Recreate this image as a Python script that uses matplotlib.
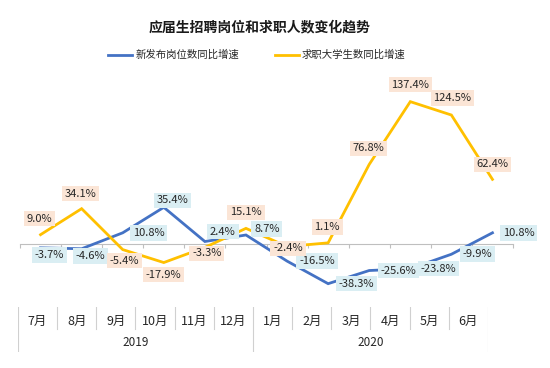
import numpy as np
import matplotlib
matplotlib.use("Agg")
import matplotlib.pyplot as plt

plt.rcParams['font.family'] = ['Noto Sans CJK SC', 'DejaVu Sans']

months = ["7月", "8月", "9月", "10月", "11月", "12月",
          "1月", "2月", "3月", "4月", "5月", "6月"]
years = ["2019", "2020"]
jobs = [-3.7, -4.6, 10.8, 35.4, 2.4, 8.7, -16.5, -38.3, -25.6, -23.8, -9.9, 10.8]
seekers = [9.0, 34.1, -5.4, -17.9, -3.3, 15.1, -2.4, 1.1, 76.8, 137.4, 124.5, 62.4]
jobs_name = "新发布岗位数同比增速"
seekers_name = "求职大学生数同比增速"

BLUE = "#4472C4"
YELLOW = "#FFC000"
TXT = "#262626"

# label offsets in pixels
jobs_off = [(9, -7), (9, -7), (26, 0), (9, 7), (18, 10), (21, 6),
            (30, 0), (28, 0), (29, 0), (28, 0), (26, 0), (26, 0)]
seekers_off = [(-1, 16), (-1, 15), (2, -11), (0, -12), (2, -6), (0, 16),
               (1, -2), (-1, 16), (-1, 16), (0, 17), (1, 17), (0, 15)]

W, H = 550, 368
fig = plt.figure(figsize=(5.5, 3.68), dpi=100)

# main line chart
y0, y1 = -45, 145
ppu = 1.036
zero_px = H - 244
ax = fig.add_axes([20 / W, (zero_px + y0 * ppu) / H, 493 / W, (y1 - y0) * ppu / H])
x = np.arange(len(months))
ax.plot(x, jobs, color=BLUE, lw=2, zorder=3, solid_joinstyle='miter')
ax.plot(x, seekers, color=YELLOW, lw=2, zorder=4, solid_joinstyle='miter')
ax.set_xlim(-0.5, len(months) - 0.5)
ax.set_ylim(y0, y1)
for s in ["top", "right", "left"]:
    ax.spines[s].set_visible(False)
ax.spines["bottom"].set_position(("data", 0))
ax.spines["bottom"].set_color("#bfbfbf")
ax.set_yticks([])
ax.set_xticks(np.arange(-0.5, len(months), 1))
ax.set_xticklabels([])
ax.tick_params(axis="x", length=3, color="#bfbfbf", direction="out")

for i in range(len(months)):
    ax.annotate(f"{jobs[i]:.1f}%", (x[i], jobs[i]), xytext=jobs_off[i],
                textcoords="offset pixels", ha="center", va="center",
                fontsize=8, color=TXT, zorder=6,
                bbox=dict(boxstyle="square,pad=0.25", fc="#DAEEF3", ec="none"))
    ax.annotate(f"{seekers[i]:.1f}%", (x[i], seekers[i]), xytext=seekers_off[i],
                textcoords="offset pixels", ha="center", va="center",
                fontsize=8, color=TXT, zorder=6,
                bbox=dict(boxstyle="square,pad=0.25", fc="#FBE5D6", ec="none"))

# category table under the chart
ax2 = fig.add_axes([18 / W, (H - 352) / H, 470 / W, 45 / H])
ax2.set_xlim(0, len(months))
ax2.set_ylim(0, 1)
ax2.axis("off")
for i in range(len(months) + 1):
    full = i % 6 == 0
    ax2.plot([i, i], [0 if full else 0.51, 1], color="#d0d0d0", lw=0.8)
for i, m in enumerate(months):
    ax2.text(i + 0.5, 0.68, m, ha="center", va="center", fontsize=9, color=TXT)
for j, yr in enumerate(years):
    ax2.text(3 + 6 * j, 0.22, yr, ha="center", va="center", fontsize=8.5, color=TXT)

fig.text(260 / W, 1 - 27 / H, "应届生招聘岗位和求职人数变化趋势", ha="center", va="center",
         fontsize=10, fontweight="bold", color="#1a1a1a")

h1, = ax.plot([], [], color=BLUE, lw=2)
h2, = ax.plot([], [], color=YELLOW, lw=2)
fig.legend([h1, h2], [jobs_name, seekers_name], loc="center",
           bbox_to_anchor=(257 / W, 1 - 55 / H), ncol=2, frameon=False,
           fontsize=7.5, handlelength=2.3, handletextpad=0.3, columnspacing=3.4,
           labelcolor=TXT)

fig.savefig("out.png", dpi=100, facecolor="white")
